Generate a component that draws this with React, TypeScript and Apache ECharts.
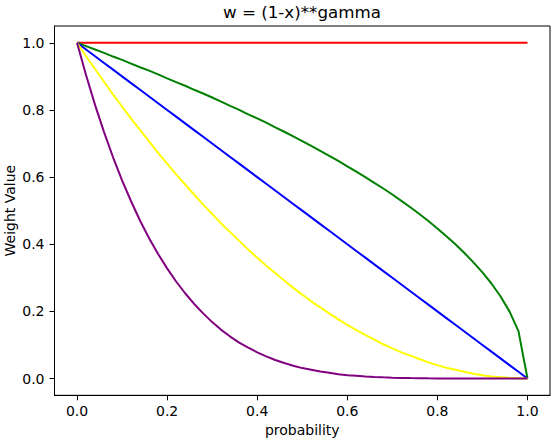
import React, { useEffect, useRef } from 'react';
import * as echarts from 'echarts';

// probability samples (step 0.02)
const probs = [
  0, 0.02, 0.04, 0.06, 0.08, 0.1, 0.12, 0.14, 0.16, 0.18, 0.2, 0.22, 0.24, 0.26, 0.28, 0.3, 0.32,
  0.34, 0.36, 0.38, 0.4, 0.42, 0.44, 0.46, 0.48, 0.5, 0.52, 0.54, 0.56, 0.58, 0.6, 0.62, 0.64,
  0.66, 0.68, 0.7, 0.72, 0.74, 0.76, 0.78, 0.8, 0.82, 0.84, 0.86, 0.88, 0.9, 0.92, 0.94, 0.96,
  0.98, 1.0,
];

// gamma = 0
const redY = [
  1, 1, 1, 1, 1, 1, 1, 1, 1, 1, 1, 1, 1, 1, 1, 1, 1, 1, 1, 1, 1, 1, 1, 1, 1, 1, 1, 1, 1, 1, 1, 1,
  1, 1, 1, 1, 1, 1, 1, 1, 1, 1, 1, 1, 1, 1, 1, 1, 1, 1, 1,
];
// gamma = 0.5
const greenY = [
  1, 0.99, 0.98, 0.97, 0.959, 0.949, 0.938, 0.927, 0.917, 0.906, 0.894, 0.883, 0.872, 0.86, 0.849,
  0.837, 0.825, 0.812, 0.8, 0.787, 0.775, 0.762, 0.748, 0.735, 0.721, 0.707, 0.693, 0.678, 0.663,
  0.648, 0.632, 0.616, 0.6, 0.583, 0.566, 0.548, 0.529, 0.51, 0.49, 0.469, 0.447, 0.424, 0.4,
  0.374, 0.346, 0.316, 0.283, 0.245, 0.2, 0.141, 0,
];
// gamma = 1
const blueY = [
  1, 0.98, 0.96, 0.94, 0.92, 0.9, 0.88, 0.86, 0.84, 0.82, 0.8, 0.78, 0.76, 0.74, 0.72, 0.7, 0.68,
  0.66, 0.64, 0.62, 0.6, 0.58, 0.56, 0.54, 0.52, 0.5, 0.48, 0.46, 0.44, 0.42, 0.4, 0.38, 0.36,
  0.34, 0.32, 0.3, 0.28, 0.26, 0.24, 0.22, 0.2, 0.18, 0.16, 0.14, 0.12, 0.1, 0.08, 0.06, 0.04,
  0.02, 0,
];
// gamma = 2
const yellowY = [
  1, 0.96, 0.922, 0.884, 0.846, 0.81, 0.774, 0.74, 0.706, 0.672, 0.64, 0.608, 0.578, 0.548, 0.518,
  0.49, 0.462, 0.436, 0.41, 0.384, 0.36, 0.336, 0.314, 0.292, 0.27, 0.25, 0.23, 0.212, 0.194,
  0.176, 0.16, 0.144, 0.13, 0.116, 0.102, 0.09, 0.078, 0.068, 0.058, 0.048, 0.04, 0.032, 0.026,
  0.02, 0.014, 0.01, 0.006, 0.004, 0.002, 0.0004, 0,
];
// gamma = 5
const purpleY = [
  1, 0.904, 0.815, 0.734, 0.659, 0.59, 0.528, 0.47, 0.418, 0.371, 0.328, 0.289, 0.254, 0.222,
  0.194, 0.168, 0.145, 0.125, 0.107, 0.092, 0.078, 0.066, 0.055, 0.046, 0.038, 0.031, 0.026,
  0.021, 0.017, 0.013, 0.01, 0.008, 0.006, 0.0045, 0.0034, 0.0024, 0.0017, 0.0012, 0.0008,
  0.0005, 0.0003, 0.0002, 0.0001, 0.0001, 0, 0, 0, 0, 0, 0, 0,
];

const tickValues = [0, 0.2, 0.4, 0.6, 0.8, 1.0];

const seriesDefs = [
  { name: 'gamma 0', color: '#ff0000', ys: redY },
  { name: 'gamma 0.5', color: '#008000', ys: greenY },
  { name: 'gamma 1', color: '#0000ff', ys: blueY },
  { name: 'gamma 2', color: '#ffff00', ys: yellowY },
  { name: 'gamma 5', color: '#800080', ys: purpleY },
];

const font = 'DejaVu Sans';

export default function App() {
  const chartRef = useRef<HTMLDivElement>(null);

  useEffect(() => {
    if (!chartRef.current) return;
    const chart = echarts.init(chartRef.current, null, { renderer: 'svg' });

    const axisCommon = {
      type: 'value',
      min: -0.05,
      max: 1.05,
      splitLine: { show: false },
      axisLine: { show: true, onZero: false, lineStyle: { color: '#000', width: 1 } },
      axisTick: {
        show: true,
        length: 5,
        customValues: tickValues,
        lineStyle: { color: '#000', width: 1 },
      },
      axisLabel: {
        customValues: tickValues,
        color: '#000',
        fontSize: 14,
        fontFamily: font,
        formatter: (v: number) => v.toFixed(1),
      },
      nameLocation: 'middle',
      nameMoveOverlap: false,
      nameTextStyle: { color: '#000', fontSize: 14, fontFamily: font },
    };

    chart.setOption({
      animation: false,
      backgroundColor: '#fff',
      grid: {
        left: 54.5,
        right: 8,
        top: 26,
        bottom: 42.7,
        outerBoundsMode: 'none',
        containLabel: false,
        show: true,
        borderColor: '#000',
        borderWidth: 1,
      },
      graphic: [
        {
          type: 'text',
          x: 302,
          y: 12,
          style: {
            text: 'w = (1-x)**gamma',
            font: `16.7px "${font}"`,
            fill: '#000',
            align: 'center',
            verticalAlign: 'middle',
          },
        },
      ],
      xAxis: {
        ...axisCommon,
        name: 'probability',
        nameGap: 28,
        axisLabel: { ...axisCommon.axisLabel, margin: 9 },
      },
      yAxis: {
        ...axisCommon,
        name: 'Weight Value',
        nameGap: 38,
        axisLabel: { ...axisCommon.axisLabel, margin: 10 },
      },
      series: seriesDefs.map((s) => ({
        name: s.name,
        type: 'line',
        showSymbol: false,
        data: probs.map((p, i) => [p, s.ys[i]]),
        lineStyle: { color: s.color, width: 2 },
        itemStyle: { color: s.color },
      })),
    });

    return () => {
      chart.dispose();
    };
  }, []);

  return (
    <div
      ref={chartRef}
      style={{ position: 'absolute', left: 0, top: 0, width: '558px', height: '438px' }}
    />
  );
}
